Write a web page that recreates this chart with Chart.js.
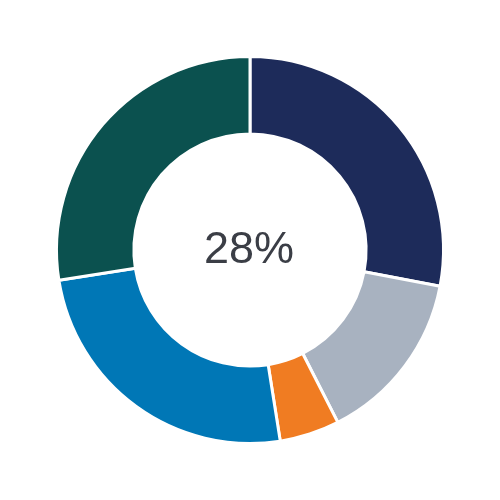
<!DOCTYPE html>
<html lang="en">
  <head>
    <meta charset="UTF-8" />
    <title>Donut</title>
    <script src="https://cdn.jsdelivr.net/npm/chart.js"></script>
    <style>
      html, body { margin: 0; padding: 0; background: #ffffff; }
      .wrap { width: 500px; height: 500px; }
    </style>
  </head>
  <body>
    <div class="wrap">
      <canvas id="donut" width="500" height="500"></canvas>
    </div>

    <script>
      // segments, clockwise from 12 o'clock
      const labels = ["A", "B", "C", "D", "E"];
      const values = [28, 14.5, 5, 25, 27.5];
      const colors = ["#1d2b5a", "#a8b2c0", "#f07c22", "#0077b6", "#0b514f"];
      const centerLabel = "28%";

      const centerText = {
        id: "centerText",
        afterDraw(chart) {
          const { ctx, chartArea } = chart;
          const x = (chartArea.left + chartArea.right) / 2;
          const y = (chartArea.top + chartArea.bottom) / 2;
          ctx.save();
          ctx.font = "45px 'Liberation Sans', Arial, sans-serif";
          ctx.fillStyle = "#3b3e46";
          ctx.textAlign = "center";
          ctx.textBaseline = "alphabetic";
          ctx.fillText(centerLabel, x - 1, y + 13);
          ctx.restore();
        },
      };

      new Chart(document.getElementById("donut").getContext("2d"), {
        type: "doughnut",
        data: {
          labels: labels,
          datasets: [
            {
              data: values,
              backgroundColor: colors,
              borderColor: "#ffffff",
              borderWidth: 3,
            },
          ],
        },
        options: {
          responsive: false,
          animation: false,
          cutout: "60%",
          layout: { padding: 55 },
          plugins: {
            legend: { display: false },
            tooltip: { enabled: false },
          },
        },
        plugins: [centerText],
      });
    </script>
  </body>
</html>
